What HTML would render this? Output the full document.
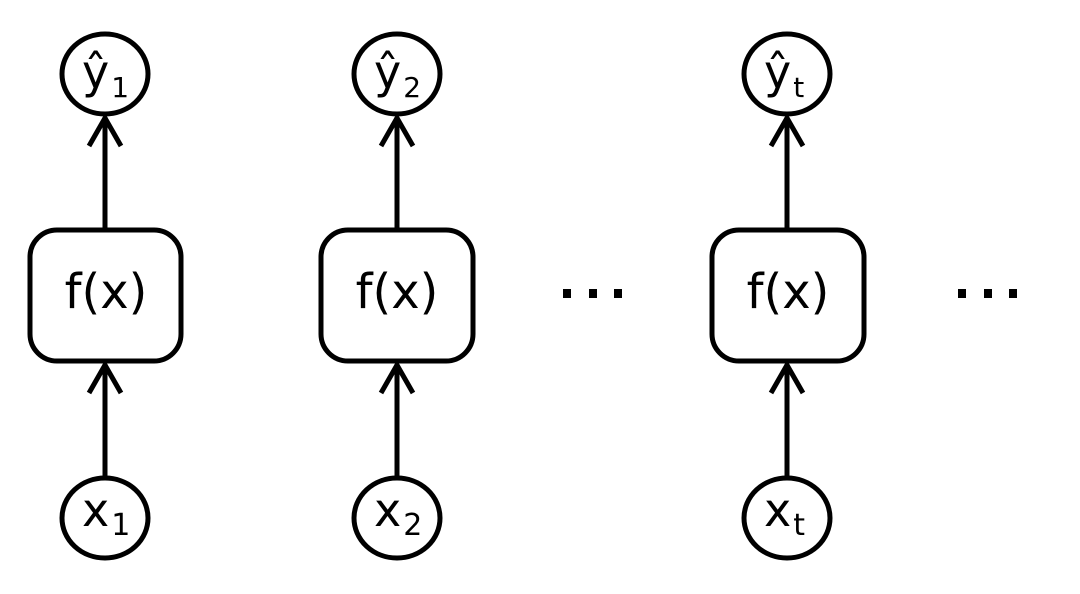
<!DOCTYPE html>
<html><head><style>body{margin:0;background:#fff}svg{display:block}</style></head><body>
<svg width="1080" height="594" viewBox="0 0 1080 594" xmlns="http://www.w3.org/2000/svg" font-family="DejaVu Sans, Verdana, sans-serif">
<g fill="none" stroke="#000" stroke-width="5">
<ellipse cx="105" cy="74" rx="43" ry="40"/>
<rect x="30" y="230" width="151" height="131" rx="27"/>
<ellipse cx="105" cy="518" rx="43" ry="40"/>
<line x1="105" y1="117" x2="105" y2="230"/><polyline points="89,146 105,118 121,146"/>
<line x1="105" y1="477" x2="105" y2="364"/><polyline points="89,393 105,365 121,393"/>

<ellipse cx="397" cy="74" rx="43" ry="40"/>
<rect x="321" y="230" width="152" height="131" rx="27"/>
<ellipse cx="397" cy="518" rx="43" ry="40"/>
<line x1="397" y1="117" x2="397" y2="230"/><polyline points="381,146 397,118 413,146"/>
<line x1="397" y1="477" x2="397" y2="364"/><polyline points="381,393 397,365 413,393"/>

<ellipse cx="787" cy="74" rx="43" ry="40"/>
<rect x="712" y="230" width="152" height="131" rx="27"/>
<ellipse cx="787" cy="518" rx="43" ry="40"/>
<line x1="787" y1="117" x2="787" y2="230"/><polyline points="771,146 787,118 803,146"/>
<line x1="787" y1="477" x2="787" y2="364"/><polyline points="771,393 787,365 803,393"/>
</g>
<g fill="#000">
<rect x="563" y="289" width="8" height="9"/><rect x="589" y="289" width="8" height="9"/><rect x="614" y="289" width="8" height="9"/>
<rect x="958" y="289" width="8" height="9"/><rect x="984" y="289" width="8" height="9"/><rect x="1009" y="289" width="8" height="9"/>
</g>
<g font-size="48" text-anchor="middle">
<text x="106" y="308">f(x)</text><text x="397" y="308">f(x)</text><text x="788" y="308">f(x)</text>
</g>
<g font-size="46">
<text x="82" y="88">ŷ<tspan font-size="28" dx="2" dy="9">1</tspan></text>
<text x="374" y="88">ŷ<tspan font-size="28" dx="2" dy="9">2</tspan></text>
<text x="764" y="88">ŷ<tspan font-size="28" dx="2" dy="9">t</tspan></text>
<text x="82" y="526">x<tspan font-size="30" dx="2" dy="9">1</tspan></text>
<text x="374" y="526">x<tspan font-size="30" dx="2" dy="9">2</tspan></text>
<text x="764" y="526">x<tspan font-size="30" dx="2" dy="9">t</tspan></text>
</g>
</svg>
</body></html>
